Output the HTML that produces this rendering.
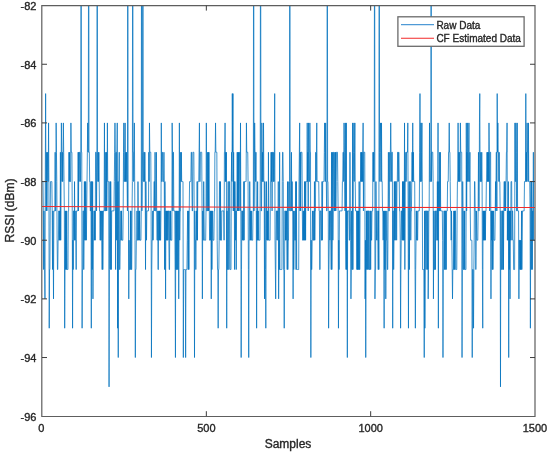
<!DOCTYPE html>
<html><head><meta charset="utf-8"><style>
html,body{margin:0;padding:0;background:#fff;}
svg{display:block;}
text{font-family:"Liberation Sans",Arial,sans-serif;fill:#262626;stroke:#262626;stroke-width:0.35px;}
</style></head><body>
<svg width="550" height="453" viewBox="0 0 550 453">
<rect width="550" height="453" fill="#fff"/>
<defs><clipPath id="c"><rect x="42.0" y="5.6" width="493.0" height="410.59999999999997"/></clipPath></defs>
<g clip-path="url(#c)">
<polyline points="42.33,181.57 42.66,181.57 42.99,181.57 43.31,210.90 43.64,269.56 43.97,210.90 44.30,240.23 44.63,269.56 44.96,298.89 45.29,181.57 45.62,93.59 45.94,181.57 46.27,210.90 46.60,152.24 46.93,210.90 47.26,181.57 47.59,152.24 47.92,181.57 48.24,181.57 48.57,122.91 48.90,181.57 49.23,328.21 49.56,269.56 49.89,269.56 50.22,210.90 50.55,181.57 50.87,181.57 51.20,181.57 51.53,181.57 51.86,181.57 52.19,210.90 52.52,269.56 52.85,210.90 53.17,240.23 53.50,298.89 53.83,210.90 54.16,210.90 54.49,210.90 54.82,210.90 55.15,152.24 55.48,210.90 55.80,210.90 56.13,122.91 56.46,152.24 56.79,181.57 57.12,240.23 57.45,269.56 57.78,269.56 58.10,240.23 58.43,240.23 58.76,210.90 59.09,210.90 59.42,240.23 59.75,210.90 60.08,240.23 60.41,152.24 60.73,240.23 61.06,181.57 61.39,122.91 61.72,152.24 62.05,181.57 62.38,152.24 62.71,181.57 63.03,152.24 63.36,122.91 63.69,152.24 64.02,181.57 64.35,210.90 64.68,328.21 65.01,269.56 65.34,210.90 65.66,269.56 65.99,210.90 66.32,269.56 66.65,210.90 66.98,269.56 67.31,269.56 67.64,269.56 67.96,269.56 68.29,210.90 68.62,210.90 68.95,152.24 69.28,181.57 69.61,152.24 69.94,181.57 70.27,181.57 70.59,181.57 70.92,122.91 71.25,152.24 71.58,152.24 71.91,152.24 72.24,210.90 72.57,328.21 72.89,240.23 73.22,269.56 73.55,210.90 73.88,210.90 74.21,240.23 74.54,181.57 74.87,240.23 75.20,210.90 75.52,240.23 75.85,240.23 76.18,269.56 76.51,210.90 76.84,210.90 77.17,210.90 77.50,210.90 77.82,210.90 78.15,152.24 78.48,210.90 78.81,152.24 79.14,181.57 79.47,152.24 79.80,152.24 80.13,152.24 80.45,181.57 80.78,152.24 81.11,-199.70 81.44,152.24 81.77,152.24 82.10,328.21 82.43,269.56 82.75,269.56 83.08,210.90 83.41,210.90 83.74,269.56 84.07,240.23 84.40,181.57 84.73,240.23 85.06,181.57 85.38,240.23 85.71,181.57 86.04,210.90 86.37,240.23 86.70,210.90 87.03,181.57 87.36,152.24 87.68,122.91 88.01,152.24 88.34,152.24 88.67,-199.70 89.00,152.24 89.33,152.24 89.66,181.57 89.99,181.57 90.31,210.90 90.64,210.90 90.97,181.57 91.30,328.21 91.63,181.57 91.96,181.57 92.29,269.56 92.61,181.57 92.94,298.89 93.27,240.23 93.60,240.23 93.93,210.90 94.26,210.90 94.59,240.23 94.92,210.90 95.24,240.23 95.57,152.24 95.90,152.24 96.23,152.24 96.56,210.90 96.89,152.24 97.22,-199.70 97.54,152.24 97.87,181.57 98.20,152.24 98.53,181.57 98.86,152.24 99.19,181.57 99.52,210.90 99.85,210.90 100.17,240.23 100.50,210.90 100.83,240.23 101.16,240.23 101.49,210.90 101.82,240.23 102.15,269.56 102.47,210.90 102.80,269.56 103.13,240.23 103.46,210.90 103.79,210.90 104.12,210.90 104.45,122.91 104.78,210.90 105.10,210.90 105.43,210.90 105.76,152.24 106.09,210.90 106.42,152.24 106.75,210.90 107.08,181.57 107.40,122.91 107.73,181.57 108.06,181.57 108.39,181.57 108.72,181.57 109.05,386.87 109.38,269.56 109.71,210.90 110.03,181.57 110.36,269.56 110.69,181.57 111.02,210.90 111.35,269.56 111.68,210.90 112.01,210.90 112.33,210.90 112.66,210.90 112.99,210.90 113.32,210.90 113.65,210.90 113.98,210.90 114.31,181.57 114.64,152.24 114.96,122.91 115.29,152.24 115.62,269.56 115.95,152.24 116.28,152.24 116.61,240.23 116.94,152.24 117.26,122.91 117.59,328.21 117.92,181.57 118.25,357.54 118.58,181.57 118.91,181.57 119.24,152.24 119.57,269.56 119.89,269.56 120.22,240.23 120.55,240.23 120.88,210.90 121.21,240.23 121.54,210.90 121.87,240.23 122.19,240.23 122.52,240.23 122.85,240.23 123.18,210.90 123.51,152.24 123.84,122.91 124.17,181.57 124.50,181.57 124.82,152.24 125.15,122.91 125.48,181.57 125.81,152.24 126.14,181.57 126.47,152.24 126.80,181.57 127.12,181.57 127.45,210.90 127.78,-199.70 128.11,210.90 128.44,210.90 128.77,298.89 129.10,240.23 129.43,269.56 129.75,269.56 130.08,269.56 130.41,210.90 130.74,269.56 131.07,210.90 131.40,269.56 131.73,269.56 132.05,210.90 132.38,181.57 132.71,-199.70 133.04,152.24 133.37,152.24 133.70,181.57 134.03,152.24 134.36,122.91 134.68,181.57 135.01,240.23 135.34,357.54 135.67,269.56 136.00,269.56 136.33,240.23 136.66,240.23 136.98,210.90 137.31,240.23 137.64,240.23 137.97,181.57 138.30,210.90 138.63,240.23 138.96,210.90 139.29,240.23 139.61,210.90 139.94,240.23 140.27,240.23 140.60,240.23 140.93,240.23 141.26,210.90 141.59,-199.70 141.91,210.90 142.24,181.57 142.57,152.24 142.90,-199.70 143.23,181.57 143.56,181.57 143.89,152.24 144.22,152.24 144.54,181.57 144.87,152.24 145.20,181.57 145.53,269.56 145.86,181.57 146.19,210.90 146.52,240.23 146.84,210.90 147.17,210.90 147.50,210.90 147.83,210.90 148.16,210.90 148.49,210.90 148.82,152.24 149.15,181.57 149.47,122.91 149.80,152.24 150.13,152.24 150.46,152.24 150.79,152.24 151.12,210.90 151.45,357.54 151.77,269.56 152.10,240.23 152.43,240.23 152.76,210.90 153.09,240.23 153.42,210.90 153.75,210.90 154.08,181.57 154.40,181.57 154.73,210.90 155.06,152.24 155.39,210.90 155.72,210.90 156.05,210.90 156.38,152.24 156.70,210.90 157.03,240.23 157.36,240.23 157.69,210.90 158.02,269.56 158.35,269.56 158.68,210.90 159.01,240.23 159.33,210.90 159.66,240.23 159.99,210.90 160.32,240.23 160.65,240.23 160.98,210.90 161.31,122.91 161.63,181.57 161.96,181.57 162.29,152.24 162.62,152.24 162.95,181.57 163.28,181.57 163.61,181.57 163.94,152.24 164.26,181.57 164.59,269.56 164.92,181.57 165.25,210.90 165.58,298.89 165.91,210.90 166.24,240.23 166.56,210.90 166.89,240.23 167.22,240.23 167.55,210.90 167.88,240.23 168.21,210.90 168.54,210.90 168.87,240.23 169.19,269.56 169.52,269.56 169.85,210.90 170.18,240.23 170.51,210.90 170.84,240.23 171.17,240.23 171.49,240.23 171.82,240.23 172.15,122.91 172.48,152.24 172.81,210.90 173.14,152.24 173.47,152.24 173.80,210.90 174.12,210.90 174.45,210.90 174.78,210.90 175.11,269.56 175.44,357.54 175.77,210.90 176.10,269.56 176.42,210.90 176.75,269.56 177.08,269.56 177.41,210.90 177.74,269.56 178.07,240.23 178.40,210.90 178.73,298.89 179.05,240.23 179.38,122.91 179.71,240.23 180.04,210.90 180.37,210.90 180.70,152.24 181.03,181.57 181.35,152.24 181.68,181.57 182.01,181.57 182.34,181.57 182.67,181.57 183.00,181.57 183.33,357.54 183.66,269.56 183.98,269.56 184.31,269.56 184.64,269.56 184.97,269.56 185.30,269.56 185.63,357.54 185.96,269.56 186.28,269.56 186.61,269.56 186.94,269.56 187.27,240.23 187.60,210.90 187.93,240.23 188.26,269.56 188.59,210.90 188.91,269.56 189.24,210.90 189.57,181.57 189.90,181.57 190.23,181.57 190.56,181.57 190.89,181.57 191.21,152.24 191.54,152.24 191.87,181.57 192.20,210.90 192.53,210.90 192.86,152.24 193.19,152.24 193.52,152.24 193.84,152.24 194.17,210.90 194.50,357.54 194.83,210.90 195.16,240.23 195.49,240.23 195.82,269.56 196.14,240.23 196.47,210.90 196.80,240.23 197.13,181.57 197.46,240.23 197.79,181.57 198.12,181.57 198.45,181.57 198.77,181.57 199.10,152.24 199.43,122.91 199.76,181.57 200.09,181.57 200.42,152.24 200.75,152.24 201.07,152.24 201.40,152.24 201.73,152.24 202.06,210.90 202.39,298.89 202.72,210.90 203.05,240.23 203.38,240.23 203.70,181.57 204.03,210.90 204.36,240.23 204.69,240.23 205.02,240.23 205.35,240.23 205.68,240.23 206.00,210.90 206.33,122.91 206.66,210.90 206.99,210.90 207.32,210.90 207.65,152.24 207.98,210.90 208.31,152.24 208.63,210.90 208.96,152.24 209.29,210.90 209.62,240.23 209.95,240.23 210.28,210.90 210.61,240.23 210.93,210.90 211.26,298.89 211.59,210.90 211.92,269.56 212.25,240.23 212.58,210.90 212.91,240.23 213.24,240.23 213.56,240.23 213.89,240.23 214.22,210.90 214.55,210.90 214.88,152.24 215.21,152.24 215.54,122.91 215.86,152.24 216.19,152.24 216.52,152.24 216.85,152.24 217.18,240.23 217.51,269.56 217.84,269.56 218.17,328.21 218.49,269.56 218.82,269.56 219.15,240.23 219.48,181.57 219.81,181.57 220.14,240.23 220.47,181.57 220.79,240.23 221.12,240.23 221.45,240.23 221.78,210.90 222.11,210.90 222.44,210.90 222.77,210.90 223.10,210.90 223.42,210.90 223.75,210.90 224.08,240.23 224.41,152.24 224.74,152.24 225.07,122.91 225.40,181.57 225.72,152.24 226.05,181.57 226.38,152.24 226.71,328.21 227.04,210.90 227.37,269.56 227.70,269.56 228.03,181.57 228.35,181.57 228.68,269.56 229.01,269.56 229.34,181.57 229.67,181.57 230.00,269.56 230.33,269.56 230.65,269.56 230.98,269.56 231.31,181.57 231.64,152.24 231.97,181.57 232.30,93.59 232.63,152.24 232.96,93.59 233.28,210.90 233.61,152.24 233.94,210.90 234.27,181.57 234.60,269.56 234.93,181.57 235.26,210.90 235.58,240.23 235.91,210.90 236.24,269.56 236.57,210.90 236.90,210.90 237.23,152.24 237.56,210.90 237.89,152.24 238.21,210.90 238.54,152.24 238.87,210.90 239.20,181.57 239.53,152.24 239.86,152.24 240.19,210.90 240.51,122.91 240.84,210.90 241.17,357.54 241.50,269.56 241.83,210.90 242.16,210.90 242.49,240.23 242.82,210.90 243.14,240.23 243.47,240.23 243.80,181.57 244.13,240.23 244.46,181.57 244.79,181.57 245.12,181.57 245.44,181.57 245.77,181.57 246.10,181.57 246.43,122.91 246.76,152.24 247.09,152.24 247.42,152.24 247.75,152.24 248.07,181.57 248.40,269.56 248.73,357.54 249.06,240.23 249.39,240.23 249.72,181.57 250.05,210.90 250.37,240.23 250.70,210.90 251.03,240.23 251.36,210.90 251.69,240.23 252.02,240.23 252.35,240.23 252.68,240.23 253.00,210.90 253.33,210.90 253.66,-199.70 253.99,210.90 254.32,181.57 254.65,122.91 254.98,152.24 255.30,152.24 255.63,181.57 255.96,152.24 256.29,210.90 256.62,328.21 256.95,210.90 257.28,240.23 257.61,181.57 257.93,240.23 258.26,210.90 258.59,240.23 258.92,240.23 259.25,240.23 259.58,240.23 259.91,240.23 260.23,181.57 260.56,-199.70 260.89,152.24 261.22,210.90 261.55,210.90 261.88,122.91 262.21,181.57 262.54,152.24 262.86,181.57 263.19,181.57 263.52,122.91 263.85,181.57 264.18,181.57 264.51,298.89 264.84,181.57 265.16,210.90 265.49,269.56 265.82,328.21 266.15,240.23 266.48,181.57 266.81,240.23 267.14,210.90 267.47,240.23 267.79,210.90 268.12,240.23 268.45,152.24 268.78,240.23 269.11,240.23 269.44,240.23 269.77,240.23 270.09,240.23 270.42,181.57 270.75,181.57 271.08,152.24 271.41,181.57 271.74,152.24 272.07,210.90 272.40,152.24 272.72,152.24 273.05,181.57 273.38,181.57 273.71,152.24 274.04,181.57 274.37,152.24 274.70,93.59 275.02,240.23 275.35,269.56 275.68,298.89 276.01,240.23 276.34,210.90 276.67,210.90 277.00,240.23 277.33,210.90 277.65,210.90 277.98,240.23 278.31,181.57 278.64,298.89 278.97,240.23 279.30,269.56 279.63,152.24 279.95,269.56 280.28,269.56 280.61,269.56 280.94,269.56 281.27,269.56 281.60,269.56 281.93,269.56 282.26,181.57 282.58,152.24 282.91,152.24 283.24,181.57 283.57,269.56 283.90,269.56 284.23,328.21 284.56,269.56 284.88,210.90 285.21,210.90 285.54,240.23 285.87,210.90 286.20,240.23 286.53,210.90 286.86,240.23 287.19,269.56 287.51,181.57 287.84,269.56 288.17,240.23 288.50,240.23 288.83,181.57 289.16,210.90 289.49,181.57 289.81,-199.70 290.14,152.24 290.47,210.90 290.80,210.90 291.13,210.90 291.46,152.24 291.79,210.90 292.12,181.57 292.44,210.90 292.77,210.90 293.10,298.89 293.43,210.90 293.76,269.56 294.09,240.23 294.42,240.23 294.74,210.90 295.07,240.23 295.40,240.23 295.73,181.57 296.06,269.56 296.39,181.57 296.72,269.56 297.05,269.56 297.37,269.56 297.70,269.56 298.03,269.56 298.36,269.56 298.69,269.56 299.02,181.57 299.35,152.24 299.67,122.91 300.00,210.90 300.33,152.24 300.66,210.90 300.99,152.24 301.32,152.24 301.65,152.24 301.98,152.24 302.30,210.90 302.63,240.23 302.96,240.23 303.29,210.90 303.62,240.23 303.95,210.90 304.28,240.23 304.60,181.57 304.93,240.23 305.26,181.57 305.59,240.23 305.92,181.57 306.25,181.57 306.58,181.57 306.91,181.57 307.23,122.91 307.56,181.57 307.89,152.24 308.22,210.90 308.55,122.91 308.88,152.24 309.21,181.57 309.53,181.57 309.86,122.91 310.19,152.24 310.52,152.24 310.85,357.54 311.18,240.23 311.51,269.56 311.84,269.56 312.16,240.23 312.49,210.90 312.82,240.23 313.15,240.23 313.48,240.23 313.81,210.90 314.14,240.23 314.46,181.57 314.79,240.23 315.12,210.90 315.45,210.90 315.78,152.24 316.11,181.57 316.44,152.24 316.77,122.91 317.09,181.57 317.42,181.57 317.75,181.57 318.08,181.57 318.41,181.57 318.74,181.57 319.07,210.90 319.39,210.90 319.72,269.56 320.05,269.56 320.38,210.90 320.71,210.90 321.04,210.90 321.37,240.23 321.70,240.23 322.02,181.57 322.35,240.23 322.68,181.57 323.01,181.57 323.34,181.57 323.67,181.57 324.00,181.57 324.32,152.24 324.65,122.91 324.98,152.24 325.31,181.57 325.64,122.91 325.97,181.57 326.30,181.57 326.63,210.90 326.95,210.90 327.28,-199.70 327.61,181.57 327.94,181.57 328.27,210.90 328.60,328.21 328.93,269.56 329.25,240.23 329.58,210.90 329.91,240.23 330.24,210.90 330.57,210.90 330.90,240.23 331.23,269.56 331.56,152.24 331.88,269.56 332.21,240.23 332.54,152.24 332.87,240.23 333.20,210.90 333.53,152.24 333.86,152.24 334.18,210.90 334.51,210.90 334.84,152.24 335.17,210.90 335.50,152.24 335.83,210.90 336.16,181.57 336.49,152.24 336.81,152.24 337.14,152.24 337.47,152.24 337.80,181.57 338.13,210.90 338.46,328.21 338.79,240.23 339.11,269.56 339.44,210.90 339.77,210.90 340.10,210.90 340.43,210.90 340.76,210.90 341.09,210.90 341.42,210.90 341.74,210.90 342.07,210.90 342.40,181.57 342.73,181.57 343.06,152.24 343.39,152.24 343.72,181.57 344.04,122.91 344.37,152.24 344.70,181.57 345.03,210.90 345.36,122.91 345.69,240.23 346.02,269.56 346.35,122.91 346.67,269.56 347.00,210.90 347.33,357.54 347.66,210.90 347.99,210.90 348.32,210.90 348.65,210.90 348.97,210.90 349.30,240.23 349.63,240.23 349.96,152.24 350.29,210.90 350.62,240.23 350.95,298.89 351.28,269.56 351.60,210.90 351.93,269.56 352.26,269.56 352.59,122.91 352.92,269.56 353.25,181.57 353.58,152.24 353.90,122.91 354.23,181.57 354.56,152.24 354.89,122.91 355.22,181.57 355.55,210.90 355.88,210.90 356.21,210.90 356.53,210.90 356.86,269.56 357.19,210.90 357.52,269.56 357.85,210.90 358.18,269.56 358.51,210.90 358.83,269.56 359.16,181.57 359.49,269.56 359.82,269.56 360.15,181.57 360.48,181.57 360.81,152.24 361.14,181.57 361.46,152.24 361.79,181.57 362.12,152.24 362.45,181.57 362.78,152.24 363.11,122.91 363.44,210.90 363.76,152.24 364.09,152.24 364.42,152.24 364.75,152.24 365.08,298.89 365.41,240.23 365.74,357.54 366.07,269.56 366.39,210.90 366.72,269.56 367.05,210.90 367.38,269.56 367.71,210.90 368.04,210.90 368.37,210.90 368.69,269.56 369.02,210.90 369.35,269.56 369.68,269.56 370.01,269.56 370.34,210.90 370.67,269.56 371.00,210.90 371.32,240.23 371.65,240.23 371.98,210.90 372.31,210.90 372.64,210.90 372.97,152.24 373.30,181.57 373.62,152.24 373.95,181.57 374.28,152.24 374.61,-199.70 374.94,298.89 375.27,269.56 375.60,269.56 375.93,181.57 376.25,210.90 376.58,240.23 376.91,210.90 377.24,210.90 377.57,240.23 377.90,240.23 378.23,269.56 378.55,210.90 378.88,269.56 379.21,-199.70 379.54,152.24 379.87,181.57 380.20,152.24 380.53,122.91 380.86,152.24 381.18,181.57 381.51,122.91 381.84,181.57 382.17,181.57 382.50,210.90 382.83,210.90 383.16,240.23 383.48,210.90 383.81,240.23 384.14,328.21 384.47,210.90 384.80,269.56 385.13,240.23 385.46,210.90 385.79,298.89 386.11,240.23 386.44,240.23 386.77,210.90 387.10,240.23 387.43,269.56 387.76,269.56 388.09,210.90 388.41,152.24 388.74,210.90 389.07,210.90 389.40,210.90 389.73,152.24 390.06,181.57 390.39,152.24 390.72,122.91 391.04,152.24 391.37,181.57 391.70,152.24 392.03,152.24 392.36,152.24 392.69,328.21 393.02,210.90 393.34,210.90 393.67,269.56 394.00,240.23 394.33,181.57 394.66,240.23 394.99,181.57 395.32,240.23 395.65,181.57 395.97,181.57 396.30,181.57 396.63,240.23 396.96,181.57 397.29,181.57 397.62,152.24 397.95,152.24 398.27,181.57 398.60,152.24 398.93,152.24 399.26,181.57 399.59,210.90 399.92,210.90 400.25,240.23 400.58,328.21 400.90,269.56 401.23,240.23 401.56,210.90 401.89,210.90 402.22,240.23 402.55,181.57 402.88,240.23 403.20,181.57 403.53,240.23 403.86,181.57 404.19,240.23 404.52,122.91 404.85,269.56 405.18,181.57 405.51,181.57 405.83,152.24 406.16,181.57 406.49,152.24 406.82,152.24 407.15,152.24 407.48,152.24 407.81,122.91 408.13,210.90 408.46,328.21 408.79,210.90 409.12,181.57 409.45,269.56 409.78,181.57 410.11,181.57 410.44,181.57 410.76,240.23 411.09,210.90 411.42,210.90 411.75,181.57 412.08,152.24 412.41,181.57 412.74,122.91 413.06,181.57 413.39,152.24 413.72,181.57 414.05,181.57 414.38,181.57 414.71,181.57 415.04,269.56 415.37,328.21 415.69,269.56 416.02,240.23 416.35,210.90 416.68,240.23 417.01,210.90 417.34,240.23 417.67,240.23 417.99,210.90 418.32,210.90 418.65,210.90 418.98,210.90 419.31,210.90 419.64,152.24 419.97,93.59 420.30,181.57 420.62,181.57 420.95,122.91 421.28,181.57 421.61,152.24 421.94,122.91 422.27,181.57 422.60,269.56 422.92,269.56 423.25,269.56 423.58,269.56 423.91,269.56 424.24,357.54 424.57,210.90 424.90,328.21 425.23,269.56 425.55,210.90 425.88,210.90 426.21,269.56 426.54,210.90 426.87,210.90 427.20,210.90 427.53,269.56 427.85,210.90 428.18,298.89 428.51,269.56 428.84,210.90 429.17,210.90 429.50,122.91 429.83,181.57 430.16,181.57 430.48,181.57 430.81,152.24 431.14,-199.70 431.47,181.57 431.80,152.24 432.13,152.24 432.46,152.24 432.78,152.24 433.11,181.57 433.44,298.89 433.77,210.90 434.10,240.23 434.43,269.56 434.76,269.56 435.09,210.90 435.41,269.56 435.74,210.90 436.07,210.90 436.40,210.90 436.73,240.23 437.06,240.23 437.39,181.57 437.71,240.23 438.04,122.91 438.37,328.21 438.70,181.57 439.03,210.90 439.36,210.90 439.69,152.24 440.02,210.90 440.34,152.24 440.67,210.90 441.00,210.90 441.33,210.90 441.66,210.90 441.99,210.90 442.32,210.90 442.64,240.23 442.97,357.54 443.30,269.56 443.63,269.56 443.96,210.90 444.29,210.90 444.62,269.56 444.95,210.90 445.27,269.56 445.60,210.90 445.93,210.90 446.26,269.56 446.59,210.90 446.92,210.90 447.25,210.90 447.57,181.57 447.90,181.57 448.23,181.57 448.56,152.24 448.89,152.24 449.22,122.91 449.55,152.24 449.88,152.24 450.20,181.57 450.53,210.90 450.86,210.90 451.19,240.23 451.52,210.90 451.85,240.23 452.18,269.56 452.50,298.89 452.83,269.56 453.16,269.56 453.49,269.56 453.82,210.90 454.15,269.56 454.48,210.90 454.81,269.56 455.13,210.90 455.46,210.90 455.79,269.56 456.12,269.56 456.45,269.56 456.78,269.56 457.11,210.90 457.43,181.57 457.76,181.57 458.09,122.91 458.42,181.57 458.75,152.24 459.08,181.57 459.41,181.57 459.74,152.24 460.06,181.57 460.39,122.91 460.72,152.24 461.05,152.24 461.38,152.24 461.71,152.24 462.04,357.54 462.36,269.56 462.69,181.57 463.02,210.90 463.35,269.56 463.68,269.56 464.01,210.90 464.34,269.56 464.67,210.90 464.99,269.56 465.32,269.56 465.65,269.56 465.98,269.56 466.31,122.91 466.64,210.90 466.97,152.24 467.29,181.57 467.62,122.91 467.95,152.24 468.28,181.57 468.61,152.24 468.94,122.91 469.27,181.57 469.60,181.57 469.92,152.24 470.25,210.90 470.58,240.23 470.91,240.23 471.24,240.23 471.57,240.23 471.90,240.23 472.22,357.54 472.55,269.56 472.88,269.56 473.21,269.56 473.54,328.21 473.87,269.56 474.20,240.23 474.53,181.57 474.85,181.57 475.18,210.90 475.51,210.90 475.84,269.56 476.17,240.23 476.50,210.90 476.83,240.23 477.15,240.23 477.48,240.23 477.81,240.23 478.14,210.90 478.47,152.24 478.80,210.90 479.13,210.90 479.46,122.91 479.78,93.59 480.11,181.57 480.44,181.57 480.77,152.24 481.10,181.57 481.43,181.57 481.76,152.24 482.08,181.57 482.41,269.56 482.74,328.21 483.07,210.90 483.40,240.23 483.73,210.90 484.06,240.23 484.39,210.90 484.71,240.23 485.04,210.90 485.37,240.23 485.70,210.90 486.03,210.90 486.36,181.57 486.69,181.57 487.01,152.24 487.34,181.57 487.67,152.24 488.00,181.57 488.33,152.24 488.66,181.57 488.99,122.91 489.32,152.24 489.64,210.90 489.97,152.24 490.30,152.24 490.63,152.24 490.96,298.89 491.29,210.90 491.62,240.23 491.94,210.90 492.27,269.56 492.60,210.90 492.93,269.56 493.26,240.23 493.59,210.90 493.92,240.23 494.25,240.23 494.57,240.23 494.90,240.23 495.23,210.90 495.56,181.57 495.89,210.90 496.22,152.24 496.55,152.24 496.87,210.90 497.20,93.59 497.53,152.24 497.86,122.91 498.19,152.24 498.52,152.24 498.85,181.57 499.18,152.24 499.50,181.57 499.83,181.57 500.16,210.90 500.49,386.87 500.82,210.90 501.15,210.90 501.48,269.56 501.80,269.56 502.13,210.90 502.46,210.90 502.79,269.56 503.12,210.90 503.45,269.56 503.78,210.90 504.11,181.57 504.43,181.57 504.76,210.90 505.09,181.57 505.42,210.90 505.75,181.57 506.08,181.57 506.41,152.24 506.73,152.24 507.06,122.91 507.39,240.23 507.72,210.90 508.05,240.23 508.38,181.57 508.71,357.54 509.04,210.90 509.36,269.56 509.69,210.90 510.02,298.89 510.35,210.90 510.68,240.23 511.01,181.57 511.34,181.57 511.66,181.57 511.99,240.23 512.32,210.90 512.65,210.90 512.98,240.23 513.31,240.23 513.64,269.56 513.97,269.56 514.29,269.56 514.62,269.56 514.95,122.91 515.28,181.57 515.61,181.57 515.94,122.91 516.27,152.24 516.59,210.90 516.92,210.90 517.25,122.91 517.58,210.90 517.91,210.90 518.24,210.90 518.57,210.90 518.90,298.89 519.22,240.23 519.55,240.23 519.88,269.56 520.21,240.23 520.54,269.56 520.87,240.23 521.20,269.56 521.52,210.90 521.85,269.56 522.18,240.23 522.51,210.90 522.84,210.90 523.17,210.90 523.50,210.90 523.83,210.90 524.15,210.90 524.48,181.57 524.81,181.57 525.14,181.57 525.47,181.57 525.80,93.59 526.13,181.57 526.45,152.24 526.78,181.57 527.11,122.91 527.44,152.24 527.77,152.24 528.10,181.57 528.43,122.91 528.76,181.57 529.08,181.57 529.41,181.57 529.74,181.57 530.07,210.90 530.40,328.21 530.73,210.90 531.06,181.57 531.38,269.56 531.71,181.57 532.04,210.90 532.37,269.56 532.70,210.90 533.03,240.23 533.36,152.24 533.69,240.23 534.01,240.23 534.34,240.23 534.67,240.23 535.00,240.23" fill="none" stroke="#0072BD" stroke-width="0.75" stroke-linejoin="miter"/>
</g>
<polyline points="42,206.45 105,206.7 156,206.9 202,207.0 306,207.35 488,207.45 535,207.5" fill="none" stroke="#f22a2a" stroke-width="1.1"/>
<g stroke="#5e5e5e" stroke-width="1.2" fill="none">
<path d="M41.8,5.6 H535 V416.5 H41.8 Z"/>
</g>
<g stroke="#3c3c3c" stroke-width="1">
<line x1="42.0" y1="64.26" x2="47.0" y2="64.26"/><line x1="530.0" y1="64.26" x2="535.0" y2="64.26"/><line x1="42.0" y1="122.91" x2="47.0" y2="122.91"/><line x1="530.0" y1="122.91" x2="535.0" y2="122.91"/><line x1="42.0" y1="181.57" x2="47.0" y2="181.57"/><line x1="530.0" y1="181.57" x2="535.0" y2="181.57"/><line x1="42.0" y1="240.23" x2="47.0" y2="240.23"/><line x1="530.0" y1="240.23" x2="535.0" y2="240.23"/><line x1="42.0" y1="298.89" x2="47.0" y2="298.89"/><line x1="530.0" y1="298.89" x2="535.0" y2="298.89"/><line x1="42.0" y1="357.54" x2="47.0" y2="357.54"/><line x1="530.0" y1="357.54" x2="535.0" y2="357.54"/><line x1="206.33" y1="416.2" x2="206.33" y2="411.2"/><line x1="206.33" y1="5.6" x2="206.33" y2="10.6"/><line x1="370.67" y1="416.2" x2="370.67" y2="411.2"/><line x1="370.67" y1="5.6" x2="370.67" y2="10.6"/>
</g>
<g font-size="11">
<text x="36.5" y="10.10" text-anchor="end">-82</text><text x="36.5" y="68.76" text-anchor="end">-84</text><text x="36.5" y="127.41" text-anchor="end">-86</text><text x="36.5" y="186.07" text-anchor="end">-88</text><text x="36.5" y="244.73" text-anchor="end">-90</text><text x="36.5" y="303.39" text-anchor="end">-92</text><text x="36.5" y="362.04" text-anchor="end">-94</text><text x="36.5" y="420.70" text-anchor="end">-96</text>
<text x="41.30" y="432" text-anchor="middle">0</text><text x="206.33" y="432" text-anchor="middle">500</text><text x="370.67" y="432" text-anchor="middle">1000</text><text x="535.00" y="432" text-anchor="middle">1500</text>
</g>
<text x="288" y="448" font-size="12" text-anchor="middle">Samples</text>
<text transform="translate(14.3,210.5) rotate(-90)" font-size="12" text-anchor="middle">RSSI (dBm)</text>
<rect x="397.9" y="16.8" width="126.2" height="29.5" fill="#fff" stroke="#6a6a6a" stroke-width="1.3"/>
<line x1="401" y1="24.7" x2="434" y2="24.7" stroke="#4f9ad6" stroke-width="1.3"/>
<line x1="401" y1="38.2" x2="434" y2="38.2" stroke="#f22a2a" stroke-width="1.1"/>
<text x="436.4" y="28.7" font-size="10">Raw Data</text>
<text x="436.4" y="42.2" font-size="10">CF Estimated Data</text>
</svg>
</body></html>
